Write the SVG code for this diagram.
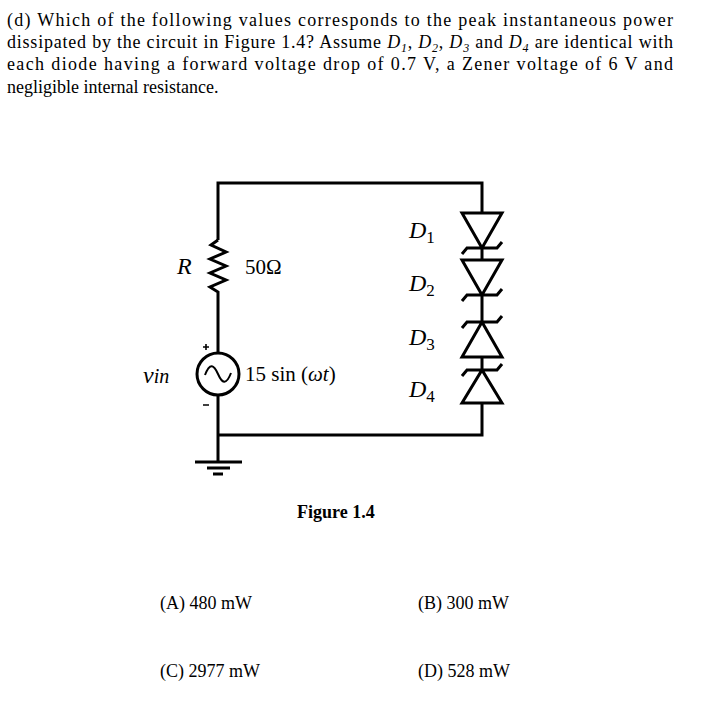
<svg xmlns="http://www.w3.org/2000/svg" width="725" height="706" viewBox="0 0 725 706" font-family="'Liberation Serif', 'Times New Roman', serif">
<style>
.t{font-family:'Liberation Serif','Times New Roman',serif;font-size:18px;fill:#000}
.m{font-family:'Liberation Serif','Times New Roman',serif;font-style:italic;font-size:24px;fill:#000}
.n{font-family:'Liberation Serif','Times New Roman',serif;font-size:21px;fill:#000}
.w{stroke:#000;stroke-width:3;fill:none;stroke-linejoin:miter}
</style>
<rect width="725" height="706" fill="#fff"/>
<g id="question">
<text class="t" x="7" y="26" textLength="666" lengthAdjust="spacing">(d) Which of the following values corresponds to the peak instantaneous power</text>
<text class="t" x="7" y="48" textLength="666" lengthAdjust="spacing">dissipated by the circuit in Figure 1.4? Assume <tspan font-style="italic">D</tspan><tspan font-style="italic" font-size="12" dy="4">1</tspan><tspan dy="-4">, </tspan><tspan font-style="italic">D</tspan><tspan font-style="italic" font-size="12" dy="4">2</tspan><tspan dy="-4">, </tspan><tspan font-style="italic">D</tspan><tspan font-style="italic" font-size="12" dy="4">3</tspan><tspan dy="-4"> and </tspan><tspan font-style="italic">D</tspan><tspan font-style="italic" font-size="12" dy="4">4</tspan><tspan dy="-4"> are identical with</tspan></text>
<text class="t" x="7" y="70" textLength="666" lengthAdjust="spacing">each diode having a forward voltage drop of 0.7 V, a Zener voltage of 6 V and</text>
<text class="t" x="7" y="93">negligible internal resistance.</text>
</g>
<g id="connectors">
<path class="w" d="M218 240 V183 H482 V213"/>
<path class="w" d="M218 296 V352 M218 396 V462 M218 435 H482 V403"/>
<path class="w" d="M482 248 V260 M482 295 V322 M482 357 V370"/>
</g>
<g id="resistor">
<path class="w" d="M218 240 L211 245 L226 252 L210 259 L226 266 L210 273 L226 280 L210 287 L218 292 V296"/>
<text class="m" x="177" y="274" font-size="20">R</text>
<text class="n" x="245" y="274">50Ω</text>
</g>
<g id="source">
<circle class="w" cx="218" cy="374" r="21"/>
<path d="M205 375 C210 362 214 365 218 374 C222 383 226 386 231 373" stroke="#000" stroke-width="2" fill="none"/>
<path d="M203 347 h6 M206 344 v6 M203 405 h6" stroke="#000" stroke-width="1.6"/>
<text class="m" x="143" y="383" font-size="22">v<tspan font-size="20">in</tspan></text>
<text class="n" x="245" y="381">15 sin (<tspan font-style="italic">ωt</tspan>)</text>
</g>
<g id="ground">
<path d="M195 462 H242 M207 468 H230 M213 474 H223" stroke="#000" stroke-width="3"/>
</g>
<g id="D1">
<path class="w" d="M462 213 H502 L482 248 Z M462 254 L467 248 H497 L502 242"/>
<text class="m" x="409" y="238">D<tspan font-style="normal" font-size="17" dy="5">1</tspan></text>
</g>
<g id="D2">
<path class="w" d="M462 260 H502 L482 295 Z M462 301 L467 295 H497 L502 289"/>
<text class="m" x="409" y="291">D<tspan font-style="normal" font-size="17" dy="5">2</tspan></text>
</g>
<g id="D3">
<path class="w" d="M462 357 H502 L482 322 Z M462 328 L467 322 H497 L502 316"/>
<text class="m" x="409" y="345">D<tspan font-style="normal" font-size="17" dy="5">3</tspan></text>
</g>
<g id="D4">
<path class="w" d="M462 403 H502 L482 370 Z M462 376 L467 370 H497 L502 364"/>
<text class="m" x="409" y="397">D<tspan font-style="normal" font-size="17" dy="5">4</tspan></text>
</g>
<g id="caption">
<text class="t" x="297" y="518" font-weight="bold">Figure 1.4</text>
</g>
<g id="answers">
<text class="t" x="160" y="609">(A) 480 mW</text>
<text class="t" x="418" y="609">(B) 300 mW</text>
<text class="t" x="160" y="677">(C) 2977 mW</text>
<text class="t" x="418" y="677">(D) 528 mW</text>
</g>
</svg>
